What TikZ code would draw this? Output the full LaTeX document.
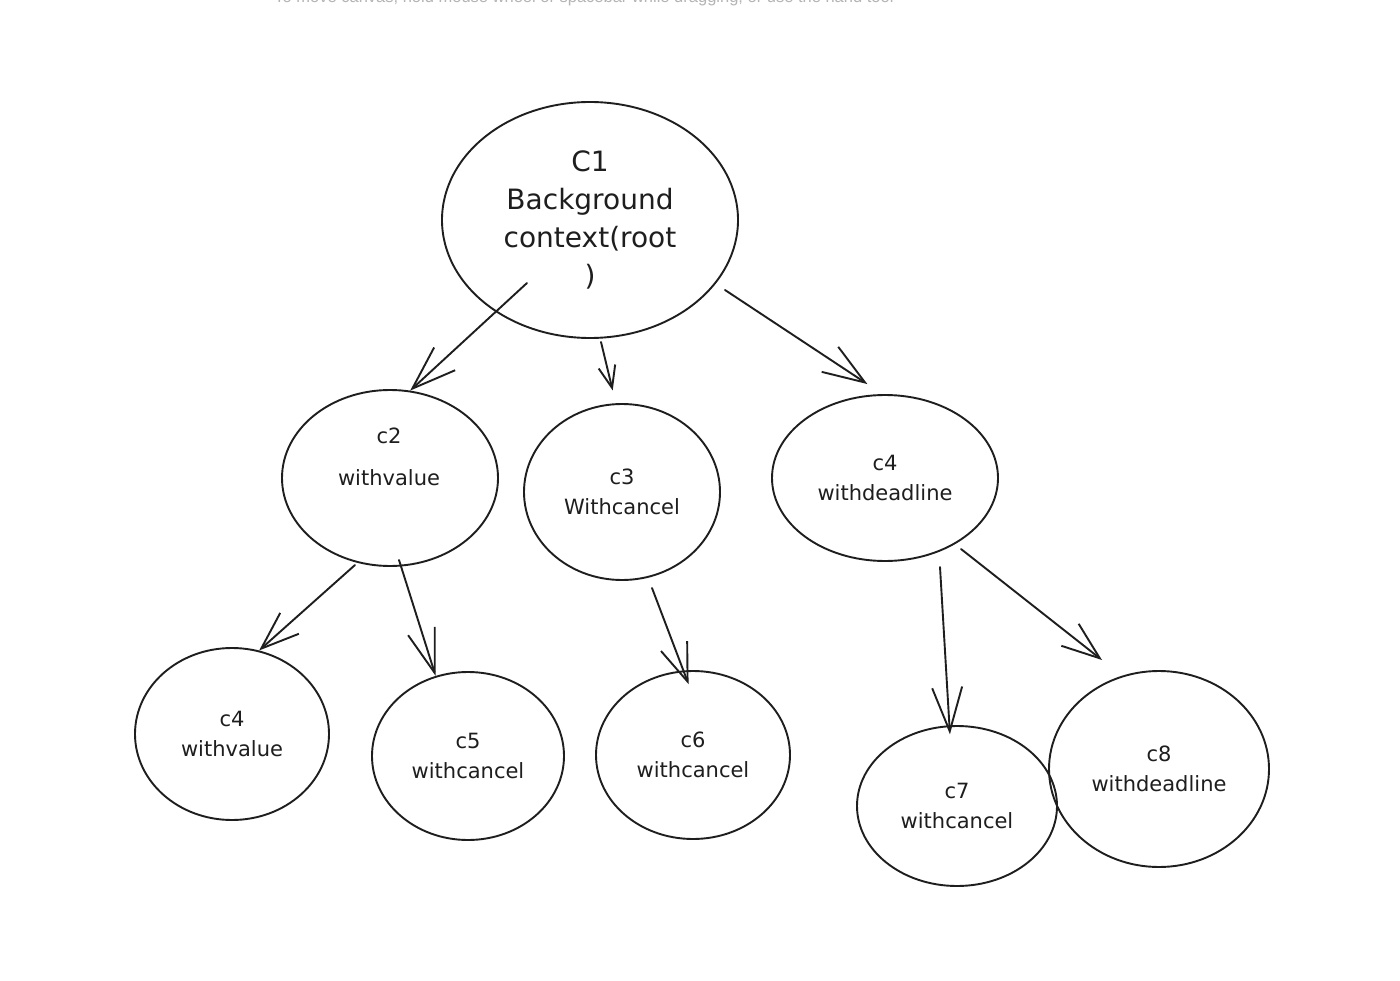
\documentclass[tikz,border=0pt]{standalone}
\usepackage{fontspec}
\setmainfont{DejaVu Sans}
\newfontfamily\hintfont{Liberation Sans}
\usetikzlibrary{shapes.geometric,arrows.meta,calc}
\definecolor{ink}{HTML}{1E1E1E}
\definecolor{hint}{HTML}{B4B4B4}
\tikzset{
  bub/.style={draw=ink, line width=1.9pt, ellipse, inner sep=0pt, text=ink,
    align=center, font=\fontsize{21}{30}\selectfont},
  lbl/.style={text=ink, align=center, inner sep=0pt, font=\fontsize{21}{30}\selectfont},
  arr/.style={draw=ink, line width=1.9pt, line cap=round,
    -{Straight Barb[length=38pt,width=28pt,line width=1.9pt]}},
  arrsmall/.style={draw=ink, line width=1.9pt, line cap=round,
    -{Straight Barb[length=22pt,width=17pt,line width=1.9pt]}}
}
\begin{document}
\begin{tikzpicture}[x=1pt,y=-1pt]
\useasboundingbox (0,0) rectangle (1400,981);
\fill[white] (0,0) rectangle (1400,981);
\begin{scope}
\clip (0,0) rectangle (1400,981);
\node[anchor=base, text=hint, inner sep=0pt, font=\hintfont\fontsize{16.5}{18}\selectfont] (hinttxt) at (584,3) {To move canvas, hold mouse wheel or spacebar while dragging, or use the hand tool};
\end{scope}

% nodes
\node[bub, minimum width=296pt, minimum height=236pt, font=\fontsize{28}{38}\selectfont] (c1) at (590,220) {C1\\Background\\context(root\\)};
\node[bub, minimum width=216pt, minimum height=176pt] (c2) at (390,478) {};
\node[lbl, font=\fontsize{21}{42}\selectfont] (c2t) at (389,457) {c2\\withvalue};
\node[bub, minimum width=196pt, minimum height=176pt] (c3) at (622,492) {c3\\Withcancel};
\node[bub, minimum width=226pt, minimum height=166pt] (c4) at (885,478) {c4\\withdeadline};
\node[bub, minimum width=194pt, minimum height=172pt] (c4v) at (232,734) {c4\\withvalue};
\node[bub, minimum width=192pt, minimum height=168pt] (c5) at (468,756) {c5\\withcancel};
\node[bub, minimum width=194pt, minimum height=168pt] (c6) at (693,755) {c6\\withcancel};
\node[bub, minimum width=200pt, minimum height=160pt] (c7) at (957,806) {c7\\withcancel};
\node[bub, minimum width=220pt, minimum height=196pt] (c8) at (1159,769) {c8\\withdeadline};

% arrow start points
\coordinate (s12) at (527,283);
\coordinate (s13) at (601,342);
\coordinate (s14) at (725,290);
\coordinate (s24) at (355,565);
\coordinate (s25) at (399,560);
\coordinate (s36) at (652,588);
\coordinate (s47) at (940,567);
\coordinate (s48) at (961,549);
\coordinate (e48) at (1102,660);

% connectors
\draw[arr, -{Straight Barb[length=44pt,width=31pt,line width=1.9pt]}] (s12) -- (c2.77);
\draw[arrsmall] (s13) -- ([yshift=13pt]c3.96);
\draw[arr, -{Straight Barb[length=42pt,width=30pt,line width=1.9pt]}] (s14) -- ([yshift=11pt]c4.102);
\draw[arr] (s24) -- (c4v.72);
\draw[arr, -{Straight Barb[length=44pt,width=28pt,line width=1.9pt]}] (s25) -- (c5.112);
\draw[arr] (s36) -- ([yshift=-14pt]c6.93);
\draw[arr, -{Straight Barb[length=44pt,width=30pt,line width=1.9pt]}] (s47) -- ([yshift=-9pt]c7.95);
\draw[arr] (s48) -- (e48);
\end{tikzpicture}
\end{document}
